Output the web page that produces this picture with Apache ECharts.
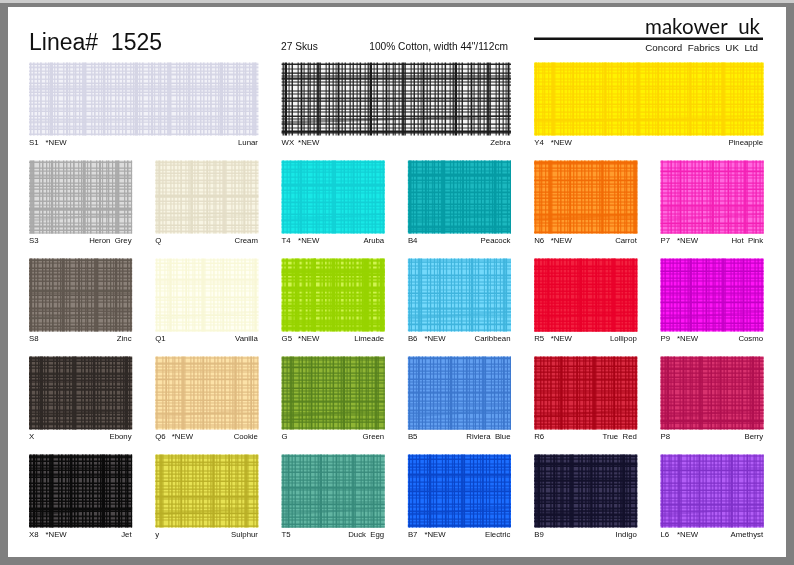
<!DOCTYPE html>
<html lang="en">
<head>
    <meta charset="UTF-8">
    <title>Linea# 1525</title>
    <script src="https://cdn.jsdelivr.net/npm/echarts@6/dist/echarts.min.js"></script>
</head>
<style>
    html,body{
        margin: 0;
        padding: 0;
        background: #7f7f7f;
    }
    #main{
        width: 794px;
        height: 565px;
        filter: blur(0.4px);
    }
</style>
<body>
    <div id="main"></div>
    <script>
        // swatch card left to right, top to bottom
        var columns = ['c1', 'c2', 'c3', 'c4', 'c5', 'c6'];
        var rows = ['r1', 'r2', 'r3', 'r4', 'r5'];

        var swatchCodes = ['S1', 'WX', 'Y4',
            'S3', 'Q', 'T4', 'B4', 'N6', 'P7',
            'S8', 'Q1', 'G5', 'B6', 'R5', 'P9',
            'X', 'Q6', 'G', 'B5', 'R6', 'P8',
            'X8', 'y', 'T5', 'B7', 'B9', 'L6'];
        var swatchNames = ['Lunar', 'Zebra', 'Pineapple',
            'Heron  Grey', 'Cream', 'Aruba', 'Peacock', 'Carrot', 'Hot  Pink',
            'Zinc', 'Vanilla', 'Limeade', 'Caribbean', 'Lollipop', 'Cosmo',
            'Ebony', 'Cookie', 'Green', 'Riviera  Blue', 'True  Red', 'Berry',
            'Jet', 'Sulphur', 'Duck  Egg', 'Electric', 'Indigo', 'Amethyst'];
        var swatchNew = [1, 1, 1,
            0, 0, 1, 0, 1, 1,
            0, 0, 1, 1, 1, 1,
            0, 1, 0, 0, 0, 0,
            1, 0, 0, 1, 0, 1];
        var swatchCols = [0, 2, 4,
            0, 1, 2, 3, 4, 5,
            0, 1, 2, 3, 4, 5,
            0, 1, 2, 3, 4, 5,
            0, 1, 2, 3, 4, 5];
        var swatchRows = [0, 0, 0,
            1, 1, 1, 1, 1, 1,
            2, 2, 2, 2, 2, 2,
            3, 3, 3, 3, 3, 3,
            4, 4, 4, 4, 4, 4];
        var swatchSpans = [2, 2, 2,
            1, 1, 1, 1, 1, 1,
            1, 1, 1, 1, 1, 1,
            1, 1, 1, 1, 1, 1,
            1, 1, 1, 1, 1, 1];
        var gapColours = ['#f2f2f8', '#f4f4f4', '#fff200',
            '#dcdcdc', '#f8f5e4', '#18e8e6', '#1cb8bf', '#ff9c2e', '#ff68de',
            '#8a8078', '#fffff2', '#d0f450', '#74d9fb', '#f2203f', '#ff14f6',
            '#5e544e', '#fce2a8', '#8fb534', '#629ff0', '#d82a40', '#d8326e',
            '#4b4749', '#e7e253', '#62b5a2', '#1c6eff', '#3b3659', '#b25ef6'];
        var threadColours = ['#d5d5e5', '#1b1b1b', '#fdd500',
            '#a9a9a9', '#e3ddc6', '#12d0d5', '#069ba4', '#f26b06', '#f420b5',
            '#60574f', '#f8f7d6', '#97d300', '#3fb4dd', '#e9002a', '#c400c6',
            '#2f2926', '#dfba80', '#57811f', '#3c77cd', '#a80316', '#b01050',
            '#0b0b0b', '#b8ae26', '#378a7b', '#0a46c9', '#13112b', '#8031c9'];

        var titleText = 'Linea#  1525';
        var skuText = '27 Skus';
        var clothText = '100% Cotton, width 44"/112cm';
        var brandText = 'makower  uk';
        var companyText = 'Concord  Fabrics  UK  Ltd';

        // cloth texture, not data: thread spacing and weight, repeated over each swatch
        var warpSteps = [3, 4, 3, 5, 3, 2, 4, 3, 6, 3, 3, 4, 2, 4, 3, 3, 6, 3, 4, 3, 2, 4, 3, 5];
        var warpWeights = [1.1, 1.3, 1, 1.5, 1.1, 1.2, 2.4, 1, 1.3, 1.1, 1.7, 1, 1.3, 1.1, 1, 2.8, 1.2, 1.1, 1.3, 1.1, 1, 1.9, 1.1, 1.3];
        var weftSteps = [3, 4, 3, 5, 4, 3, 2, 4, 3, 6, 3, 4, 3, 5, 3];
        var weftWeights = [1.1, 1.3, 1, 1.5, 1.1, 1.2, 1, 2.2, 1.1, 1.3, 1, 1.1, 1.7, 1.2];
        var threadOpacity = [1, 0.9, 1, 0.95, 0.85, 1, 1, 0.9];
        var threadScales = [1.25, 1, 1,
            1.15, 1.1, 1.1, 1.1, 1, 1,
            1.15, 1, 1.9, 1, 1.2, 1,
            1.25, 1, 1, 1, 1, 1.1,
            1.3, 1, 1, 1, 1.25, 1];

        var gutterX = 23.2, gutterY = 25;

        function threads(children, colour, horizontal, x, y, w, h, steps, weights, shift, scale) {
            var span = horizontal ? h : w;
            var pos = 1, n = shift;
            while (pos < span) {
                var t = Math.min(weights[n % weights.length] * scale, span - pos);
                children.push({
                    type: 'rect',
                    shape: horizontal ? {x: x, y: y + pos, width: w, height: t} : {x: x + pos, y: y, width: t, height: h},
                    style: {fill: colour, opacity: threadOpacity[n % threadOpacity.length]},
                    silent: true
                });
                pos += steps[n % steps.length];
                n++;
            }
        }

        function renderSwatch(params, api) {
            var i = api.value(3);
            var centre = api.coord([api.value(0), api.value(1)]);
            var band = api.size([1, 1]);
            var x = centre[0] - band[0] / 2;
            var y = centre[1] - band[1] / 2;
            var w = band[0] * api.value(2) - gutterX;
            var h = band[1] - gutterY;
            var colour = threadColours[i];
            var scale = threadScales[i];
            var children = [{
                type: 'rect',
                shape: {x: x, y: y, width: w, height: h},
                style: {fill: gapColours[i]},
                silent: true
            }];
            threads(children, colour, false, x, y, w, h, warpSteps, warpWeights, i * 5, scale);
            threads(children, colour, true, x, y, w, h, weftSteps, weftWeights, i * 3, scale);
            // slack strand running across the lower part of the cloth
            children.push({
                type: 'polygon',
                shape: {points: [[x, y + h * 0.8], [x + w, y + h * 0.72], [x + w, y + h * 0.74], [x, y + h * 0.84]]},
                style: {fill: colour, opacity: 0.5},
                silent: true
            });
            // caption under the swatch
            var textY = y + h + 7.5;
            var font = '7.8px "Liberation Sans", Arial, sans-serif';
            children.push({
                type: 'text',
                style: {text: swatchCodes[i], x: x, y: textY, font: font, fill: '#111', textAlign: 'left', textVerticalAlign: 'middle'}
            });
            if (swatchNew[i]) {
                children.push({
                    type: 'text',
                    style: {text: '*NEW', x: x + 16.5, y: textY, font: font, fill: '#111', textAlign: 'left', textVerticalAlign: 'middle'}
                });
            }
            children.push({
                type: 'text',
                style: {text: swatchNames[i], x: x + w - 0.5, y: textY, font: font, fill: '#111', textAlign: 'right', textVerticalAlign: 'middle'}
            });
            return {type: 'group', children: children};
        }

        function headerText(text, x, y, size, align, family) {
            return {
                type: 'text',
                x: x,
                y: y,
                z: 5,
                style: {
                    text: text,
                    font: size + 'px ' + (family || '"Liberation Sans", Arial, sans-serif'),
                    fill: '#111',
                    textAlign: align,
                    textVerticalAlign: 'middle'
                }
            };
        }

        var chart = echarts.init(document.getElementById('main'));
        chart.setOption({
            animation: false,
            backgroundColor: '#7f7f7f',
            tooltip: {show: false},
            grid: {left: 29, top: 62.5, width: 757.8, height: 490, containLabel: false},
            xAxis: {type: 'category', data: columns, show: false},
            yAxis: {type: 'category', data: rows, inverse: true, show: false},
            graphic: [
                {type: 'rect', z: -2, shape: {x: 0, y: 0, width: 794, height: 3}, style: {fill: '#cccccc'}},
                {type: 'rect', z: -1, shape: {x: 8, y: 7, width: 778, height: 550}, style: {fill: '#ffffff'}},
                {type: 'rect', z: 5, shape: {x: 534, y: 37.5, width: 229, height: 2.5}, style: {fill: '#111'}},
                headerText(titleText, 29, 44, 23, 'left'),
                headerText(skuText, 281, 47.5, 10.2, 'left'),
                headerText(clothText, 508, 47.5, 10.2, 'right'),
                headerText(brandText, 760, 27.5, 20.5, 'right', 'Lato, "Open Sans", sans-serif'),
                headerText(companyText, 758, 48, 9.8, 'right')
            ],
            series: [{
                type: 'custom',
                coordinateSystem: 'cartesian2d',
                clip: false,
                renderItem: renderSwatch,
                data: swatchCols.map(function(col, i){
                    return [col, swatchRows[i], swatchSpans[i], i];
                })
            }]
        });
    </script>
</body>
</html>
